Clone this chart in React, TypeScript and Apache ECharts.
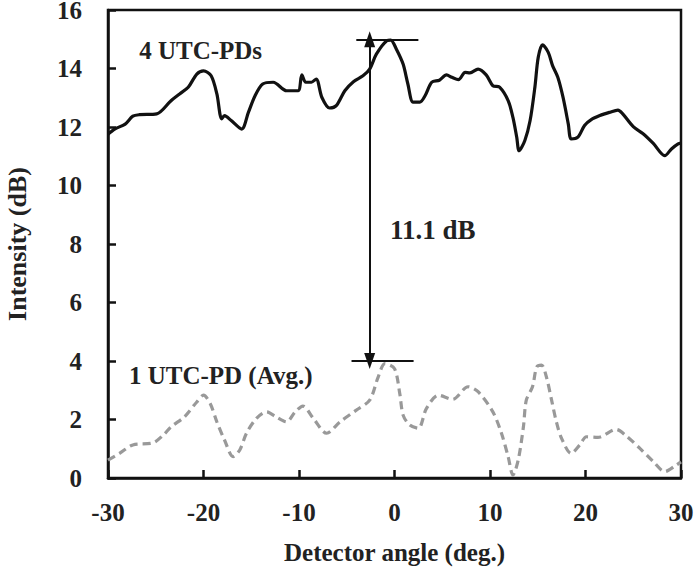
import React, { useEffect, useRef } from "react";
import * as echarts from "echarts";

const solidX = [-30, -29.3, -28.2, -27.4, -26.7, -24.9, -23.4, -22.5, -21.6, -20.7, -20.0, -19.2, -18.6, -18.1, -17.8, -17.1, -16.0, -15.3, -14.6, -13.8, -12.7, -11.3, -10.1, -9.7, -9.3, -8.7, -8.2, -7.6, -6.8, -6.1, -5.2, -4.3, -3.3, -2.6, -1.9, -0.8, -0.4, 0.2, 0.9, 1.4, 1.95, 2.65, 3.2, 3.9, 4.7, 5.45, 6.0, 6.7, 7.4, 7.9, 8.75, 9.6, 10.3, 11.0, 11.9, 12.4, 12.8, 13.05, 13.65, 14.2, 14.7, 15.05, 15.5, 16.1, 16.55, 17.1, 17.65, 18.2, 18.5, 19.2, 19.9, 20.6, 21.5, 22.5, 23.4, 23.9, 25.0, 26.0, 27.1, 28.3, 29.0, 29.7, 30];
const solidY = [11.75, 11.93, 12.1, 12.37, 12.42, 12.45, 12.9, 13.13, 13.36, 13.81, 13.92, 13.75, 13.13, 12.28, 12.39, 12.22, 11.93, 12.5, 13.07, 13.47, 13.53, 13.24, 13.24, 13.78, 13.53, 13.53, 13.64, 13.01, 12.65, 12.73, 13.24, 13.55, 13.75, 13.98, 14.49, 14.95, 14.97, 14.66, 14.15, 13.47, 12.85, 12.85, 13.07, 13.53, 13.6, 13.78, 13.7, 13.62, 13.87, 13.85, 13.98, 13.78, 13.41, 13.36, 12.9, 12.33, 11.65, 11.19, 11.54, 12.22, 13.36, 14.38, 14.81, 14.55, 14.1, 13.7, 13.01, 12.1, 11.59, 11.65, 12.05, 12.25, 12.39, 12.5, 12.58, 12.45, 12.01, 11.78, 11.44, 11.02, 11.25, 11.42, 11.45];

const dashX = [-30, -28.8, -27.4, -25.3, -24.2, -23.4, -22.0, -20.7, -20.0, -19.3, -18.6, -17.8, -16.9, -16.2, -15.5, -14.45, -13.4, -12.4, -11.3, -10.4, -9.6, -8.5, -7.1, -5.7, -4.0, -2.6, -1.7, -1.0, 0.0, 0.55, 0.9, 1.6, 2.5, 3.35, 4.6, 6.1, 7.7, 8.75, 10.3, 11.2, 11.9, 12.4, 12.95, 13.5, 13.8, 14.45, 14.9, 15.4, 15.9, 16.45, 16.95, 17.5, 18.5, 19.4, 20.1, 21.3, 23.2, 24.3, 25.7, 27.1, 28.3, 29.5, 30];
const dashY = [0.61, 0.84, 1.13, 1.2, 1.47, 1.75, 2.09, 2.6, 2.83, 2.55, 1.92, 1.3, 0.73, 0.96, 1.53, 2.04, 2.26, 2.09, 1.92, 2.26, 2.46, 2.04, 1.53, 1.92, 2.32, 2.66, 3.46, 3.91, 3.74, 2.89, 2.15, 1.81, 1.7, 2.38, 2.83, 2.69, 3.12, 2.95, 2.26, 1.53, 0.73, 0.1, 0.61, 1.75, 2.66, 3.12, 3.8, 3.86, 3.46, 2.66, 1.92, 1.35, 0.84, 1.13, 1.41, 1.39, 1.66, 1.43, 1.01, 0.56, 0.22, 0.44, 0.55];

const xTicks = { min: -30, max: 30, interval: 10 };
const yTicks = { min: 0, max: 16, interval: 2 };

const arrowX = -2.6;
const topLevel = 15.0;
const bottomLevel = 4.0;
const topLine = [-4.0, 2.5];
const bottomLine = [-4.5, 2.0];

const labels = [
  { text: "4 UTC-PDs", x: -20.3, y: 14.6, size: 25 },
  { text: "1 UTC-PD (Avg.)", x: -18.2, y: 3.5, size: 25 },
  { text: "11.1 dB", x: 4.0, y: 8.48, size: 27 },
];

const FONT = "'Liberation Serif', 'DejaVu Serif', serif";

export default function App() {
  const ref = useRef<HTMLDivElement>(null);
  useEffect(() => {
    if (!ref.current) return;
    const chart = echarts.init(ref.current, null, { renderer: "svg" });
    const solid = solidX.map((x, i) => [x, solidY[i]]);
    const dashed = dashX.map((x, i) => [x, dashY[i]]);
    chart.setOption({
      animation: false,
      grid: {
        left: 108,
        right: 15,
        top: 10,
        bottom: 91,
        outerBoundsMode: "none",
        containLabel: false,
        show: true,
        borderColor: "#111",
        borderWidth: 2.5,
        backgroundColor: "transparent",
      },
      xAxis: {
        type: "value",
        min: xTicks.min,
        max: xTicks.max,
        interval: xTicks.interval,
        name: "Detector angle (deg.)",
        nameLocation: "middle",
        nameGap: 62,
        nameTextStyle: { fontFamily: FONT, fontWeight: "bold", fontSize: 25, color: "#222" },
        axisLine: { show: true, onZero: false, lineStyle: { color: "#111", width: 2.5 } },
        axisTick: { show: true, inside: true, length: 8, lineStyle: { color: "#111", width: 2.5 } },
        axisLabel: { fontFamily: FONT, fontWeight: "bold", fontSize: 25, color: "#222", margin: 22 },
        splitLine: { show: false },
      },
      yAxis: {
        type: "value",
        min: yTicks.min,
        max: yTicks.max,
        interval: yTicks.interval,
        name: "Intensity (dB)",
        nameLocation: "middle",
        nameGap: 78,
        nameTextStyle: { fontFamily: FONT, fontWeight: "bold", fontSize: 26, color: "#222" },
        axisLine: { show: true, onZero: false, lineStyle: { color: "#111", width: 2.5 } },
        axisTick: { show: true, inside: true, length: 8, lineStyle: { color: "#111", width: 2.5 } },
        axisLabel: { fontFamily: FONT, fontWeight: "bold", fontSize: 25, color: "#222", margin: 26 },
        splitLine: { show: false },
      },
      series: [
        {
          type: "line",
          data: solid,
          showSymbol: false,
          smooth: 0.3,
          lineStyle: { color: "#111", width: 3.2 },
          z: 3,
        },
        {
          type: "line",
          data: dashed,
          showSymbol: false,
          smooth: 0.3,
          lineStyle: { color: "#999", width: 3.2, type: [8, 5] },
          z: 2,
        },
        {
          type: "line",
          data: [],
          markLine: {
            silent: true,
            animation: false,
            label: { show: false },
            data: [
              [
                { coord: [arrowX, bottomLevel], symbol: "triangle", symbolSize: [11, 16], symbolRotate: 180 },
                { coord: [arrowX, topLevel], symbol: "triangle", symbolSize: [11, 16] },
              ],
              [
                { coord: [topLine[0], topLevel], symbol: "none" },
                { coord: [topLine[1], topLevel], symbol: "none" },
              ],
              [
                { coord: [bottomLine[0], bottomLevel], symbol: "none" },
                { coord: [bottomLine[1], bottomLevel], symbol: "none" },
              ],
            ],
            lineStyle: { color: "#111", width: 2, type: "solid" },
          },
          markPoint: {
            silent: true,
            symbol: "rect",
            symbolSize: 0,
            data: labels.map((l) => ({
              coord: [l.x, l.y],
              label: {
                show: true,
                position: "inside",
                formatter: l.text,
                fontFamily: FONT,
                fontWeight: "bold",
                fontSize: l.size,
                color: "#222",
              },
            })),
          },
        },
      ],
    });
    return () => chart.dispose();
  }, []);
  return (
    <div
      ref={ref}
      style={{ position: "absolute", left: 0, top: 0, width: 696, height: 569 }}
    />
  );
}
